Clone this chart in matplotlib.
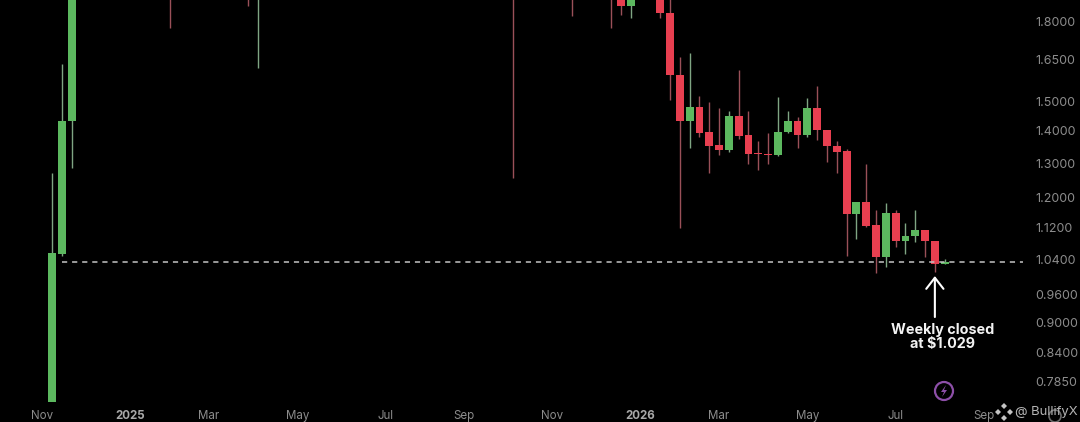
import matplotlib
matplotlib.use('Agg')
from matplotlib import pyplot as plt
from matplotlib.patches import Circle, Polygon
from matplotlib.ticker import FixedLocator, NullLocator
from matplotlib.transforms import IdentityTransform

plt.rcParams['font.family'] = ['Inter', 'DejaVu Sans']

# weekly candles, bar number counted from the first visible one
bars = [0, 1, 2, 12, 20, 21, 47, 53, 57, 58, 59, 62, 63, 64, 65, 66, 67, 68, 69, 70, 71, 72, 73, 74, 75, 76,
        77, 78, 79, 80, 81, 82, 83, 84, 85, 86, 87, 88, 89, 90, 91]
opens = [0.60, 1.0543, 1.4326, 2.20, 2.20, 2.05, 2.20, 2.20, 2.20, 1.95, 1.8676, 2.00, 1.8377, 1.5929, 1.4326,
         1.4796, 1.3967, 1.3555, 1.3400, 1.4492, 1.3871, 1.3307, 1.3277, 1.3246, 1.3967, 1.4326,
         1.3871, 1.4762, 1.4032, 1.3524, 1.3369, 1.1561, 1.1885, 1.1272, 1.0470, 1.1588, 1.0863, 1.0989, 1.1142, 1.0863, 1.0302]
closes = [1.0567, 1.4326, 2.30, 2.10, 2.10, 2.20, 2.10, 2.10, 2.10, 1.8676, 1.95, 1.8377, 1.5929, 1.4326, 1.4796,
          1.3935, 1.3524, 1.3400, 1.4492, 1.3839, 1.3277, 1.3277, 1.3246, 1.3967, 1.4326, 1.3871,
          1.4762, 1.4032, 1.3524, 1.3338, 1.1561, 1.1885, 1.1246, 1.0470, 1.1588, 1.0863, 1.0989, 1.1142, 1.0863, 1.0302, 1.0350]
highs = [1.2707, 1.6339, 2.50, 2.30, 2.30, 2.30, 2.30, 2.30, 2.30, 2.00, 2.00, 2.10, 2.00, 1.6604, 1.6758,
         1.5176, 1.4968, 1.4762, 1.4660, 1.6114, 1.4660, 1.3681, 1.3935, 1.5141, 1.4660, 1.4459,
         1.5106, 1.5530, 1.4032, 1.3681, 1.3430, 1.1885, 1.2974, 1.1668, 1.1858, 1.1668, 1.1324, 1.1668, 1.1142, 1.0863, 1.0422]
lows = [0.60, 1.05, 1.2855, 1.7753, 1.8676, 1.6189, 1.2562, 1.8250, 1.7753, 1.8293, 1.8167, 1.8167, 1.5037, 1.1194, 1.3461,
        1.3807, 1.2707, 1.3246, 1.3338, 1.3744, 1.2974, 1.2795, 1.2974, 1.3216, 1.3935, 1.3461,
        1.3807, 1.3712, 1.3034, 1.2707, 1.0494, 1.0913, 1.1220, 1.0091, 1.0231, 1.0714, 1.0543, 1.0838, 1.0470, 1.0114, 1.0302]

price_ticks = [1.8, 1.65, 1.5, 1.4, 1.3, 1.2, 1.12, 1.04, 0.96, 0.90, 0.84, 0.785]
month_bars = [-1, 8, 16, 25, 34, 42, 51, 60, 68, 77, 86, 95]
month_labels = ['Nov', '2025', 'Mar', 'May', 'Jul', 'Sep', 'Nov', '2026', 'Mar', 'May', 'Jul', 'Sep']
support = 1.035

GREEN = '#5cb85f'
RED = '#e83f50'
GREY = '#8c8c8c'
W, H = 1080, 422

fig = plt.figure(figsize=(10.8, 4.22), dpi=100, facecolor='black')
ax = fig.add_axes([0, 20 / H, 1026 / W, 402 / H], facecolor='black')
ax.set_yscale('log')

for b, o, c, h, l in zip(bars, opens, closes, highs, lows):
    up = c >= o
    ax.vlines(b, l, h, color='#7fa583' if up else '#9a5058', lw=1, zorder=2)
    ax.bar(b, abs(c - o), bottom=min(o, c), width=0.8, color=GREEN if up else RED, zorder=3)

ax.plot([1, 99], [support, support], color='#c4c4c4', lw=1.1, dashes=(3.4, 3.2), zorder=4)

ax.set_xlim(-5.3, 99.29)
ax.set_ylim(0.7495, 1.8936)

ax.yaxis.tick_right()
ax.yaxis.set_major_locator(FixedLocator(price_ticks))
ax.yaxis.set_minor_locator(NullLocator())
ax.set_yticklabels(['%.4f' % p for p in price_ticks])
ax.set_xticks(month_bars)
ax.set_xticklabels(month_labels)
ax.tick_params(axis='y', length=0, pad=7, labelsize=9, labelcolor=GREY)
ax.tick_params(axis='x', length=0, pad=6, labelsize=8.3, labelcolor=GREY)
for lab in ax.get_xticklabels():
    if lab.get_text() in ('2025', '2026'):
        lab.set_fontweight('bold')
        lab.set_color('#a8a8a8')
for s in ax.spines.values():
    s.set_visible(False)

# the weekly close callout
ax.annotate('', xy=(90, 1.0021), xytext=(90, 0.9117),
            arrowprops=dict(arrowstyle='->,head_width=0.62,head_length=0.8', color='white', lw=1.5,
                            shrinkA=0, shrinkB=0), zorder=5)
fig.text(943 / W, 1 - 337 / H, 'Weekly closed\nat $1.029', color='#f2f2f2', fontsize=10.3, fontweight='bold',
         ha='center', va='center', linespacing=1.0)

# purple lightning badge, in pixels from the bottom left corner
def px(x, y):
    return (x, H - y)

fig.add_artist(Circle(px(944, 391), 9, transform=IdentityTransform(), fill=False, edgecolor='#8d4fa8', lw=1.6))
bolt = [(946, 385), (941, 392), (944, 392), (942, 397), (947, 390), (944, 390)]
fig.add_artist(Polygon([px(x, y) for x, y in bolt], transform=IdentityTransform(),
                       facecolor='#8d4fa8', edgecolor='none'))

# watermark
fig.add_artist(Circle(px(1055, 416), 6, transform=IdentityTransform(), fill=False, edgecolor='#6a6a6a', lw=1.2))
for cx, cy in [(1004, 406), (1004, 418), (998, 412), (1010, 412)]:
    d = [(cx, cy - 3), (cx + 3, cy), (cx, cy + 3), (cx - 3, cy)]
    fig.add_artist(Polygon([px(x, y) for x, y in d], transform=IdentityTransform(),
                           facecolor='#c4c4c4', edgecolor='none'))
fig.text(1015 / W, 1 - 412 / H, '@ BullifyX', color='#b4b4b4', fontsize=9.4, ha='left', va='center')

fig.savefig('out.png', dpi=100, facecolor='black')
